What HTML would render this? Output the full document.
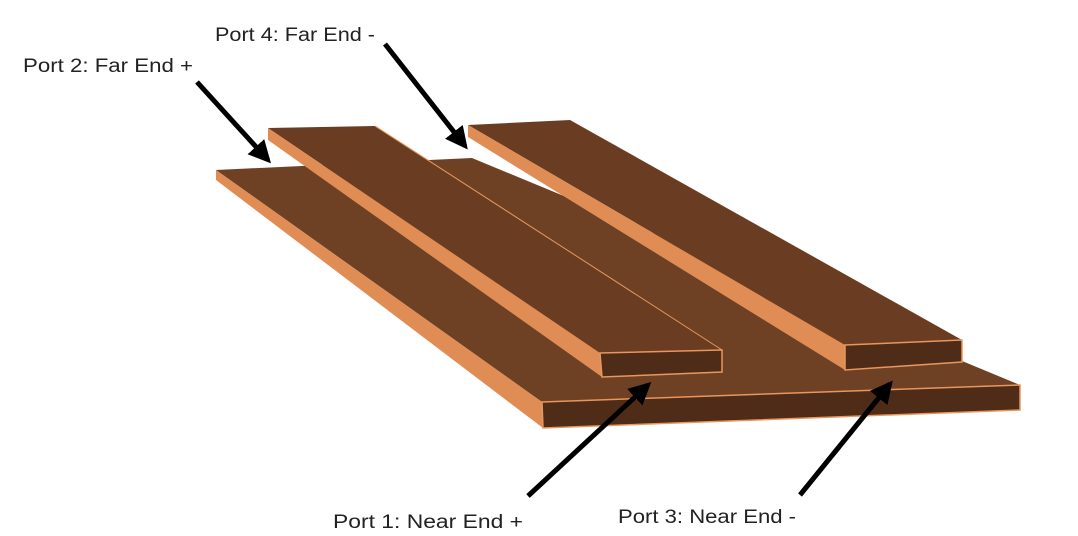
<!DOCTYPE html>
<html><head><style>
body{margin:0;background:#fff;width:1078px;height:536px;overflow:hidden;}
svg{position:absolute;left:0;top:0}
text{font-family:"Liberation Sans",Arial,sans-serif;font-size:19px;fill:#222}
</style></head><body>
<svg width="1078" height="536" viewBox="0 0 1078 536">
<defs>
<marker id="ah" viewBox="0 0 10 10" refX="8" refY="5" markerWidth="4.5" markerHeight="4.5" orient="auto"><path d="M0,0 L10,5 L0,10 z" fill="#000"/></marker>
</defs>
<polygon points="216,170 472,158 1020,385 542,402" fill="#6e4024"/>
<polygon points="216,170 542,402 543,428 216,180" fill="#e08c55"/>
<polygon points="542,402 1020,385 1020,410 543,428" fill="#4e2c18" stroke="#e8965e" stroke-width="1.5"/>
<polygon points="268,128 375,126 722,350 600,353" fill="#6a3d22"/>
<polygon points="268,128 600,353 602,377 268,140" fill="#e08c55"/>
<polygon points="600,353 722,350 722,372 602,377" fill="#4e2c18" stroke="#e8965e" stroke-width="1.5"/>
<line x1="375" y1="126" x2="722" y2="350" stroke="#e8965e" stroke-width="1"/>
<polygon points="468,125 570,120 962,340 845,345" fill="#6a3d22"/>
<polygon points="468,125 845,345 845,370 468,137" fill="#e08c55"/>
<polygon points="845,345 962,340 962,362 845,370" fill="#4e2c18" stroke="#e8965e" stroke-width="1.5"/>
<g stroke="#000" stroke-width="5" fill="none" marker-end="url(#ah)">
<line x1="197" y1="82" x2="268" y2="160"/>
<line x1="385" y1="44" x2="465" y2="146"/>
<line x1="528" y1="496" x2="648" y2="385"/>
<line x1="800" y1="495" x2="890" y2="384"/>
</g>
<text x="23" y="72" textLength="170" lengthAdjust="spacingAndGlyphs">Port 2: Far End +</text>
<text x="215" y="41" textLength="160" lengthAdjust="spacingAndGlyphs">Port 4: Far End -</text>
<text x="333" y="528" textLength="190" lengthAdjust="spacingAndGlyphs">Port 1: Near End +</text>
<text x="618" y="523" textLength="178" lengthAdjust="spacingAndGlyphs">Port 3: Near End -</text>
</svg>
</body></html>
